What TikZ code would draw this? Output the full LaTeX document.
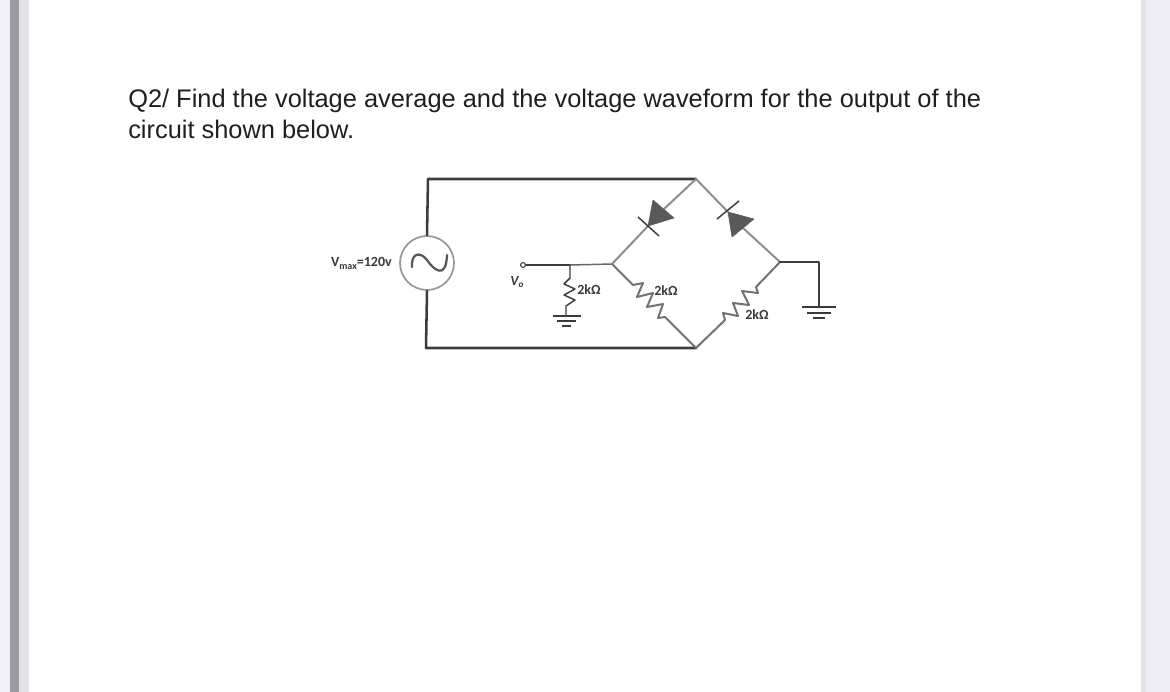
\documentclass[tikz,border=0pt]{standalone}
\usepackage{fontspec}
\setmainfont{Liberation Sans}
\newfontfamily\lbl{Carlito}
\definecolor{wiredark}{HTML}{3C3C3C}
\definecolor{wiregray}{HTML}{8E8E8E}
\definecolor{diodefill}{HTML}{595959}
\definecolor{labelgray}{HTML}{3A3A3A}
\definecolor{stripeA}{HTML}{EFEFF5}
\definecolor{stripeB}{HTML}{9B9AA2}
\definecolor{stripeC}{HTML}{E2E2E6}
\definecolor{stripeD}{HTML}{E4E4E8}
\definecolor{stripeE}{HTML}{EDEDF3}
\tikzset{
  x=0.75pt,y=-0.75pt,
  darkwire/.style={draw=wiredark,line width=1.9pt,line cap=round,line join=round},
  graywire/.style={draw=wiregray,line width=1.5pt,line cap=round,line join=round},
  thinwire/.style={draw=wiredark,line width=1.1pt,line cap=round,line join=round},
  resist/.style={draw=wiregray!80!black,line width=1.5pt,line join=round},
  gnd/.style={draw=labelgray,line width=1.4pt},
  diodetri/.style={fill=diodefill,draw=diodefill,line width=0.4pt,line join=round},
  diodebar/.style={draw=wiredark,line width=1.1pt},
  question/.style={inner sep=0pt,anchor=base west,font=\fontsize{19.05pt}{23pt}\selectfont,text=black!88},
  clabel/.style={inner sep=0pt,font=\lbl\bfseries\fontsize{10.5pt}{12pt}\selectfont,text=labelgray},
  subl/.style={},
  pt/.style={coordinate}
}
\begin{document}
\begin{tikzpicture}
\useasboundingbox (0,0) rectangle (1170,692);
% page background
\fill[white] (0,0) rectangle (1170,692);
\fill[stripeA] (0,0) rectangle (10,692);
\fill[stripeB] (10,0) rectangle (19,692);
\fill[stripeC] (19,0) rectangle (29,692);
\fill[stripeD] (1141,0) rectangle (1146,692);
\fill[stripeE] (1146,0) rectangle (1170,692);
% question
\node[question] (q1) at (128,108) {Q2/ Find the voltage average and the voltage waveform for the output of the};
\node[question] (q2) at (128,138) {circuit shown below.};
% key points
\node[pt] (tl) at (428,179) {};
\node[pt] (tr) at (696,179) {};
\node[pt] (bl) at (426,348) {};
\node[pt] (br) at (696,348) {};
\node[pt] (ml) at (612,264) {};
\node[pt] (mr) at (780,262) {};
\node[pt] (gc) at (819,262) {};
\node[pt] (gt) at (819,307) {};
\node[pt] (rj) at (570,265) {};
\node[pt] (r1t) at (570,278) {};
\node[pt] (r1b) at (566,316) {};
% source
\node[circle,draw=black!40,line width=1.3pt,minimum size=40.5pt,inner sep=0pt,fill=white] (src) at (427,263) {};
\draw[darkwire] (src.north) -- (tl) -- (tr);
\draw[darkwire] (src.south) -- (bl) -- (br);
\draw[thinwire,draw=black!65,line width=1.7pt] (412,267) .. controls (411,253) and (420,251) .. (427,260) .. controls (433,269) and (446,281) .. (447,255);
\node[clabel,anchor=east] (vm) at (392,263.5) {V\raisebox{-0.4ex}{\fontsize{7.5pt}{8pt}\selectfont max}=120v};
% Vo
\node[circle,draw=wiredark,line width=0.8pt,fill=white,minimum size=3.6pt,inner sep=0pt] (vo) at (523,265) {};
\draw[thinwire] (vo) -- (rj);
\draw[thinwire,draw=black!60] (rj) -- (ml);
\node[clabel,anchor=center] (vol) at (517,282) {\itshape V\raisebox{-0.4ex}{\fontsize{7pt}{8pt}\selectfont o}};
% resistor 1
\draw[thinwire] (rj) -- (r1t) -- (564,284) -- (575,289) -- (564,295) -- (575,300) -- (566,306) -- (r1b);
\node[clabel,anchor=west] (r1l) at (577,289.5) {2kΩ};
\draw[gnd] (553,316) -- (581,316) (557,321) -- (576,321) (562,326) -- (571,326);
% diode arms
\draw[graywire] (ml) -- (648,226);
\draw[graywire] (664,209) -- (tr);
\draw[graywire] (tr) -- (728,212);
\draw[graywire] (743,228) -- (mr);
% diode 1
\draw[diodetri] (653,200) -- (674,218) -- (648,226) -- cycle;
\draw[diodebar] (638,217) -- (659,236);
% diode 2
\draw[diodetri] (728,212) -- (754,219) -- (732,237) -- cycle;
\draw[diodebar] (717,219) -- (739,201);
% resistor 2
\draw[resist] (ml) -- (633,285) -- (643,283) -- (637,297) -- (653,293) -- (647,307) -- (663,304) -- (658,318) -- (665,317) -- (br);
\node[clabel,anchor=west] (r2l) at (654,291) {2kΩ};
% resistor 3
\draw[resist] (br) -- (725,320) -- (723,313) -- (738,316) -- (733,303) -- (749,305) -- (742,291) -- (758,293) -- (756,287) -- (mr);
\node[clabel,anchor=west] (r3l) at (745,315) {2kΩ};
% right ground
\draw[darkwire] (mr) -- (gc) -- (gt);
\draw[gnd] (802,307) -- (836,307) (807,313) -- (831,313) (813,318) -- (825,318);
\end{tikzpicture}
\end{document}
